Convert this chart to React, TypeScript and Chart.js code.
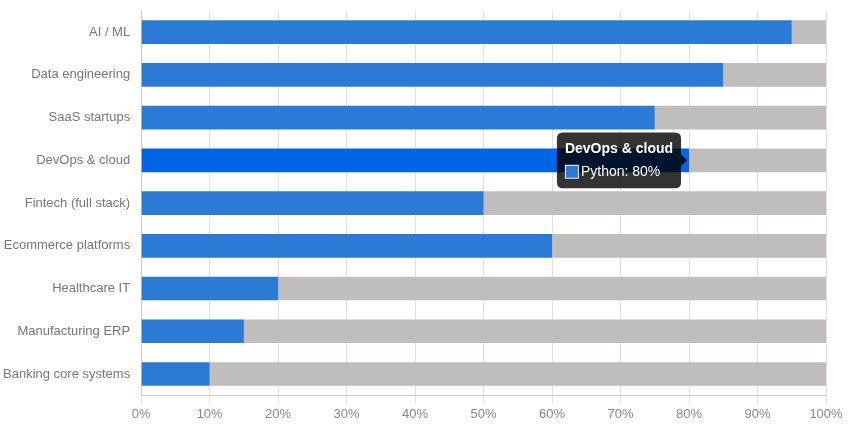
import React, { useEffect, useRef } from "react";
import { Chart, registerables } from "chart.js";
Chart.register(...registerables);

const categories = ["AI / ML", "Data engineering", "SaaS startups", "DevOps & cloud", "Fintech (full stack)", "Ecommerce platforms", "Healthcare IT", "Manufacturing ERP", "Banking core systems"];
const python = [95, 85, 75, 80, 50, 60, 20, 15, 10];
const rest = python.map((v) => 100 - v);

export default function App() {
  const ref = useRef<HTMLCanvasElement>(null);
  useEffect(() => {
    document.body.style.margin = "0";
    const chart = new Chart(ref.current!, {
      type: "bar",
      data: {
        labels: categories,
        datasets: [
          { label: "Python", data: python, backgroundColor: "#2b7bd6", hoverBackgroundColor: "#0066e6", borderWidth: 0, barPercentage: 0.65, categoryPercentage: 0.85 },
          { label: "Other", data: rest, backgroundColor: "#c0bebc", hoverBackgroundColor: "#c0bebc", borderWidth: 0, barPercentage: 0.65, categoryPercentage: 0.85 },
        ],
      },
      options: {
        indexAxis: "y",
        animation: false,
        responsive: false,
        layout: { padding: { top: 10, right: 22, bottom: 0, left: 0 } },
        plugins: {
          legend: { display: false },
          tooltip: {
            xAlign: "right",
            yAlign: "center",
            backgroundColor: "rgba(0,0,0,0.8)",
            titleFont: { size: 14, weight: "bold", family: "Arial" },
            bodyFont: { size: 14, family: "Arial" },
            padding: 8,
            caretSize: 6,
            filter: (i: any) => i.datasetIndex === 0,
            callbacks: { label: (c: any) => `${c.dataset.label}: ${c.raw}%` },
          },
        },
        scales: {
          x: {
            stacked: true, min: 0, max: 100,
            ticks: { stepSize: 10, callback: (v: any) => v + "%", color: "#888", font: { size: 13, family: "Arial" } },
            grid: { color: "#e0e0e0" },
            border: { color: "#ccc" },
          },
          y: {
            stacked: true,
            ticks: { color: "#777", font: { size: 13, family: "Arial" } },
            grid: { display: false },
            border: { color: "#ccc" },
          },
        },
      },
    });
    chart.setActiveElements([{ datasetIndex: 0, index: 3 }]);
    chart.tooltip!.setActiveElements([{ datasetIndex: 0, index: 3 }], { x: 690, y: 158 });
    chart.update();
    return () => chart.destroy();
  }, []);
  return <canvas ref={ref} width={848} height={425} />;
}
